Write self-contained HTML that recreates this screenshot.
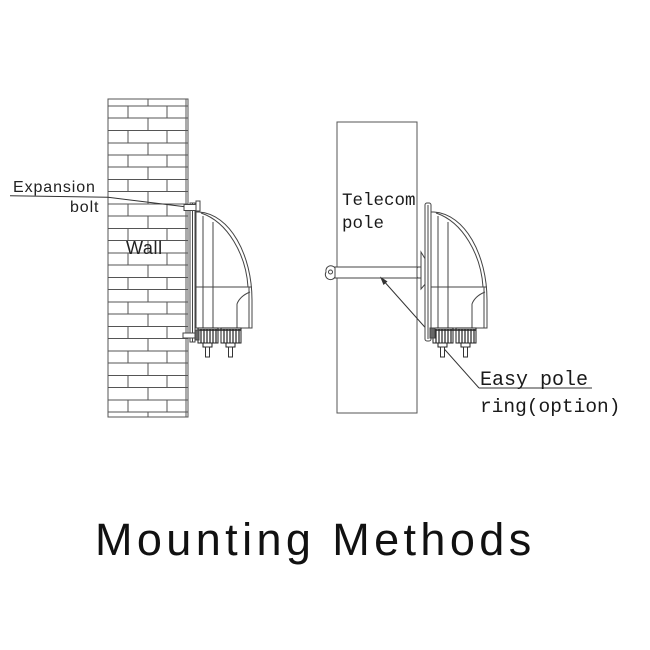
<!DOCTYPE html>
<html>
<head>
<meta charset="utf-8">
<style>
html,body{margin:0;padding:0;background:#fff;}
svg{display:block;}
</style>
</head>
<body>
<svg width="650" height="650" viewBox="0 0 650 650" xmlns="http://www.w3.org/2000/svg">
<rect x="0" y="0" width="650" height="650" fill="#fff"/>

<!-- ========== WALL ========== -->
<g stroke="#555" stroke-width="1" fill="none">
  <rect x="108" y="99" width="80" height="318"/>
  <line x1="186" y1="99" x2="186" y2="417"/>
  <path d="M108,106H188 M108,118H188 M108,130.5H188 M108,143H188 M108,155H188 M108,167H188 M108,179.5H188 M108,191.5H188 M108,204H188 M108,216H188 M108,228.5H188 M108,240.5H188 M108,253H188 M108,265H188 M108,277.5H188 M108,289.5H188 M108,302H188 M108,314H188 M108,326.5H188 M108,338.5H188 M108,351H188 M108,363H188 M108,375.5H188 M108,387.5H188 M108,400H188 M108,412H188"/>
  <path d="M148,99V106 M148,118V130.5 M148,143V155 M148,167V179.5 M148,191.5V204 M148,216V228.5 M148,240.5V253 M148,265V277.5 M148,289.5V302 M148,314V326.5 M148,338.5V351 M148,363V375.5 M148,387.5V400 M148,412V417"/>
  <path d="M128,106V118 M167,106V118 M128,130.5V143 M167,130.5V143 M128,155V167 M167,155V167 M128,179.5V191.5 M167,179.5V191.5 M128,204V216 M167,204V216 M128,228.5V240.5 M167,228.5V240.5 M128,253V265 M167,253V265 M128,277.5V289.5 M167,277.5V289.5 M128,302V314 M167,302V314 M128,326.5V338.5 M167,326.5V338.5 M128,351V363 M167,351V363 M128,375.5V387.5 M167,375.5V387.5 M128,400V412 M167,400V412"/>
</g>

<text x="126" y="254" font-family="Liberation Sans, sans-serif" font-size="18" letter-spacing="0.6" fill="#222">Wall</text>

<!-- Expansion bolt label -->
<text x="13" y="192" font-family="Liberation Sans, sans-serif" font-size="16" letter-spacing="0.9" fill="#222">Expansion</text>
<text x="70" y="212" font-family="Liberation Sans, sans-serif" font-size="16" letter-spacing="0.9" fill="#222">bolt</text>
<polyline points="10,195.7 108,197.3 185,206.7" fill="none" stroke="#333" stroke-width="1"/>

<!-- ========== POLE ========== -->
<g stroke="#555" stroke-width="1" fill="none">
  <rect x="337" y="122" width="80" height="291"/>
</g>
<text x="342" y="205" font-family="Liberation Mono, monospace" font-size="17.5" fill="#1a1a1a">Telecom</text>
<text x="342" y="228" font-family="Liberation Mono, monospace" font-size="17.5" fill="#1a1a1a">pole</text>

<!-- arm -->
<g stroke="#444" stroke-width="1" fill="#fff">
  <rect x="334" y="267" width="84" height="11"/>
  <path d="M326,272 A5,5 0 0 1 335,268 L335,277 A5,5 0 0 1 326,272 Z"/>
  <circle cx="330.5" cy="272" r="2"/>
  <rect x="417" y="267" width="6" height="11" rx="1.5"/>
  <path d="M421,252 L427,262 L427,282 L421,289 Z"/>
</g>

<!-- leader to Easy pole -->
<line x1="382" y1="279" x2="479" y2="388" stroke="#333" stroke-width="1"/>
<line x1="479" y1="388" x2="592" y2="388" stroke="#333" stroke-width="1"/>
<path d="M380,276.5 L387.5,281.5 L383.5,285 Z" fill="#333"/>

<text x="480" y="385" font-family="Liberation Mono, monospace" font-size="20" fill="#1a1a1a">Easy pole</text>
<text x="480" y="412" font-family="Liberation Mono, monospace" font-size="19.5" fill="#1a1a1a">ring(option)</text>

<!-- ========== DEVICE (wall) ========== -->
<g id="dev" stroke="#444" stroke-width="1" fill="#fff">
  <!-- body -->
  <path d="M196,212 L199,212 C230,214 252,255 252,300 L252,328 L196,328 Z"/>
  <path d="M201,213 C228,222 246,255 248,287" fill="none"/>
  <line x1="196" y1="287" x2="252" y2="287"/>
  <line x1="203" y1="216" x2="203" y2="328"/>
  <line x1="213" y1="222" x2="213" y2="328"/>
  <path d="M237,328 L237,304 Q240,296 250,292" fill="none"/>
  <line x1="249" y1="287" x2="249" y2="328"/>
  <!-- connectors -->
  <rect x="198" y="328" width="20" height="15" stroke="#222"/>
  <rect x="221" y="328" width="20" height="15" stroke="#222"/>
  <path d="M201,329V343 M204,329V343 M207,329V343 M210,329V343 M213,329V343 M216,329V343 M224,329V343 M227,329V343 M230,329V343 M233,329V343 M236,329V343 M239,329V343" stroke="#222" stroke-width="1.2" fill="none"/>
  <line x1="198" y1="330" x2="241" y2="330" stroke="#222" stroke-width="1.5"/>
  <rect x="203" y="343" width="9" height="4" stroke="#222"/>
  <rect x="226" y="343" width="9" height="4" stroke="#222"/>
  <rect x="205.5" y="347" width="4" height="10" stroke="#333"/>
  <rect x="228.5" y="347" width="4" height="10" stroke="#333"/>
</g>
<!-- wall plate and brackets -->
<g stroke="#444" stroke-width="1" fill="#fff">
  <rect x="190" y="203" width="5" height="139"/>
  <line x1="192.5" y1="203" x2="192.5" y2="342"/>
  <rect x="184" y="204.5" width="16" height="6"/>
  <rect x="196" y="201" width="4" height="10"/>
  <rect x="183" y="333" width="14" height="5"/>
  <rect x="195" y="330" width="4" height="10" fill="#666"/>
</g>

<!-- ========== DEVICE (pole) ========== -->
<use href="#dev" transform="translate(235,0)"/>
<g stroke="#444" stroke-width="1" fill="#fff">
  <rect x="425" y="203" width="6" height="138" rx="2"/>
  <line x1="428" y1="205" x2="428" y2="339"/>
  <rect x="430" y="328" width="5" height="10" fill="#666"/>
</g>

<!-- title -->
<text x="95" y="555" font-family="Liberation Sans, sans-serif" font-size="45" letter-spacing="4.4" fill="#111">Mounting Methods</text>
</svg>
</body>
</html>
